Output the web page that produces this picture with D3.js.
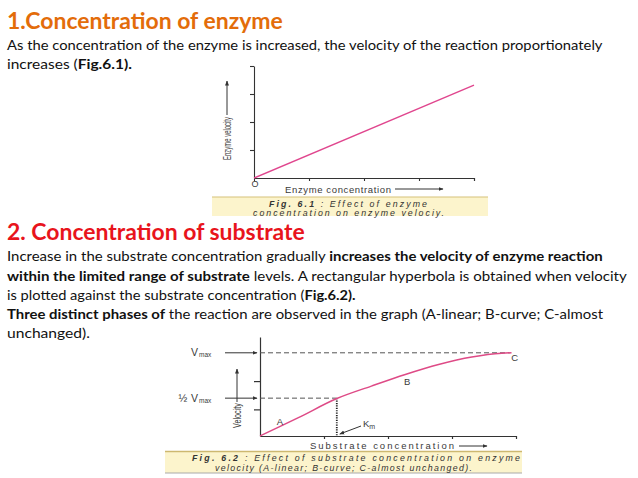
<!DOCTYPE html>
<html><head><meta charset="utf-8">
<script src="https://cdn.jsdelivr.net/npm/d3@7"></script>
<style>body{margin:0;background:#fff}svg{display:block}text{white-space:pre}</style>
</head><body>
<svg id="c" width="638" height="478"></svg>
<script>
// ---------- data ----------
const fig1Conc = [0, 4];
const fig1Vel = [0, 3.32];
const fig1XTicks = [1, 2, 3, 4];
const fig1YTicks = [1, 2, 3, 4];

const fig2Conc = [0, 0.60, 1.20, 1.74, 2.27, 2.79, 3.31, 3.78, 3.93];
const fig2Vel  = [0, 0.22, 0.45, 0.60, 0.74, 0.86, 0.95, 0.995, 1.0];
const fig2XTicks = [1, 2, 3, 4];
const fig2YTicks = [0.32, 0.66];
const vmaxValue = 1.0;
const halfVmaxValue = 0.455;
const kmValue = 1.20;
const phaseLabels = ["A", "B", "C"];

const heading1 = "1.Concentration of enzyme";
const heading2 = "2. Concentration of substrate";
const para1 = [
  [["As the concentration of the enzyme is increased, the velocity of the reaction proportionately", false]],
  [["increases (", false], ["Fig.6.1).", true]]
];
const para2 = [
  [["Increase in the substrate concentration gradually ", false], ["increases the velocity of enzyme reaction", true]],
  [["within the limited range of substrate", true], [" levels. A rectangular hyperbola is obtained when velocity", false]],
  [["is plotted against the substrate concentration (", false], ["Fig.6.2).", true]],
  [["Three distinct phases of", true], [" the reaction are observed in the graph (A-linear; B-curve; C-almost", false]],
  [["unchanged).", false]]
];
const cap1 = ["Fig. 6.1", " : Effect of enzyme", "concentration on enzyme velociy."];
const cap2 = ["Fig. 6.2", " : Effect of substrate concentration on enzyme", "velocity (A-linear; B-curve; C-almost unchanged)."];

// ---------- drawing ----------
const svg = d3.select("#c");
const BODY = "Lato, 'Open Sans', sans-serif";
const ARIAL = "'Liberation Sans', Arial, sans-serif";

const defs = svg.append("defs");
defs.append("marker").attr("id", "ah").attr("viewBox", "0 0 10 10")
  .attr("refX", 9).attr("refY", 5).attr("markerWidth", 5).attr("markerHeight", 5)
  .attr("orient", "auto").attr("markerUnits", "userSpaceOnUse")
  .append("path").attr("d", "M0,1L10,5L0,9Z").attr("fill", "#333");

function richLine(x, y, segs, size, color, target) {
  const t = svg.append("text").attr("font-family", BODY).attr("font-size", size).attr("fill", color);
  segs.forEach(([s, b]) => t.append("tspan").attr("font-weight", b ? 700 : 400).text(s));
  const w = t.node().getComputedTextLength();
  const k = target ? target / w : 1;
  t.attr("transform", `translate(${x},${y}) scale(${k},1)`);
  return t;
}

// headings & paragraphs
richLine(7, 29, [[heading1, true]], 23, "#e36c0a", 276);
richLine(7, 50, para1[0], 13.8, "#111", 596);
richLine(7, 69, para1[1], 13.8, "#111", 125);

richLine(7, 240, [[heading2, true]], 23, "#e8141c", 298);
const p2targets = [596, 620, 349, 596, 83];
const p2y = [261, 281, 300, 319, 338];
para2.forEach((segs, i) => richLine(7, p2y[i], segs, 13.8, "#111", p2targets[i]));

function label(x, y, txt, size, len, opts = {}) {
  const t = svg.append("text").attr("x", x).attr("y", y).attr("font-family", ARIAL)
    .attr("font-size", size).attr("fill", opts.fill || "#3a3a3a")
    .attr("text-anchor", opts.anchor || "start").text(txt);
  if (opts.italic) t.attr("font-style", "italic");
  if (opts.bold) t.attr("font-weight", 700);
  if (len) t.attr("textLength", len).attr("lengthAdjust", opts.adjust || "spacing");
  if (opts.rotate) t.attr("transform", `rotate(-90,${x},${y})`);
  return t;
}
function arrow(x1, y1, x2, y2) {
  svg.append("line").attr("x1", x1).attr("y1", y1).attr("x2", x2).attr("y2", y2)
    .attr("stroke", "#333").attr("stroke-width", 1).attr("marker-end", "url(#ah)");
}

// ===== Figure 6.1 =====
const x1 = d3.scaleLinear().domain([0, 4]).range([254, 474]);
const y1 = d3.scaleLinear().domain([0, 4]).range([178, 66]);
const f1 = svg.append("g");
f1.append("g").attr("transform", `translate(0,${y1(0)})`)
  .call(d3.axisBottom(x1).tickValues(fig1XTicks).tickSize(3).tickFormat(""))
  .call(g => g.selectAll("path,line").attr("stroke", "#333").attr("stroke-width", 1.1));
f1.append("g").attr("transform", `translate(${x1(0)},0)`)
  .call(d3.axisLeft(y1).tickValues(fig1YTicks).tickSize(4).tickSizeOuter(0).tickFormat(""))
  .call(g => g.selectAll("path,line").attr("stroke", "#333").attr("stroke-width", 1.1));
f1.append("path").datum(fig1Conc.map((c, i) => [c, fig1Vel[i]]))
  .attr("d", d3.line().x(d => x1(d[0])).y(d => y1(d[1])))
  .attr("fill", "none").attr("stroke", "#e0468e").attr("stroke-width", 1.4);
label(255, 187, "O", 9, null, { anchor: "middle" });
label(285, 192.5, "Enzyme concentration", 9.5, 106);
arrow(395, 189, 443, 189);
label(231, 160, "Enzyme velocity", 10.5, 43, { rotate: true, adjust: "spacingAndGlyphs" });
arrow(227, 115, 227, 81);

// caption 1
svg.append("rect").attr("x", 212).attr("y", 197).attr("width", 276).attr("height", 19).attr("fill", "#fcf4cc");
svg.append("line").attr("x1", 212).attr("x2", 488).attr("y1", 197).attr("y2", 197).attr("stroke", "#d6c27a").attr("stroke-width", 1.2);
{
  const t = svg.append("text").attr("x", 269).attr("y", 206.5).attr("font-family", ARIAL).attr("font-size", 8.8)
    .attr("font-style", "italic").attr("fill", "#333").attr("textLength", 158).attr("lengthAdjust", "spacing");
  t.append("tspan").attr("font-weight", 700).text(cap1[0]);
  t.append("tspan").text(cap1[1]);
  label(253, 215.5, cap1[2], 8.8, 191, { italic: true, fill: "#333" });
}

// ===== Figure 6.2 =====
const x2 = d3.scaleLinear().domain([0, 4]).range([260, 516]);
const y2 = d3.scaleLinear().domain([0, 1.19]).range([436, 337]);
const f2 = svg.append("g");
f2.append("g").attr("transform", `translate(0,${y2(0)})`)
  .call(d3.axisBottom(x2).tickValues(fig2XTicks).tickSize(3).tickSizeOuter(0).tickFormat(""))
  .call(g => g.selectAll("path,line").attr("stroke", "#333").attr("stroke-width", 1.2));
f2.append("g").attr("transform", `translate(${x2(0)},0)`)
  .call(d3.axisLeft(y2).tickValues(fig2YTicks).tickSize(6).tickSizeOuter(0).tickFormat(""))
  .call(g => g.selectAll("path,line").attr("stroke", "#333").attr("stroke-width", 1.2));
// dashed reference lines
f2.append("line").attr("x1", x2(0)).attr("x2", x2(3.9)).attr("y1", y2(vmaxValue)).attr("y2", y2(vmaxValue))
  .attr("stroke", "#555").attr("stroke-width", 1).attr("stroke-dasharray", "5,3");
f2.append("line").attr("x1", x2(0)).attr("x2", x2(kmValue)).attr("y1", y2(halfVmaxValue)).attr("y2", y2(halfVmaxValue))
  .attr("stroke", "#555").attr("stroke-width", 1).attr("stroke-dasharray", "5,3");
f2.append("line").attr("x1", x2(kmValue)).attr("x2", x2(kmValue)).attr("y1", y2(halfVmaxValue)).attr("y2", y2(0))
  .attr("stroke", "#222").attr("stroke-width", 1.8).attr("stroke-dasharray", "1.2,1.2");
// curve
f2.append("path").datum(fig2Conc.map((c, i) => [c, fig2Vel[i]]))
  .attr("d", d3.line().curve(d3.curveMonotoneX).x(d => x2(d[0])).y(d => y2(d[1])))
  .attr("fill", "none").attr("stroke", "#de4a86").attr("stroke-width", 1.5);
// phase labels
label(x2(0.31), y2(0.18) + 3.5, phaseLabels[0], 9.5, null, { anchor: "middle" });
label(x2(2.30), y2(0.66) + 3.5, phaseLabels[1], 9.5, null, { anchor: "middle" });
label(x2(3.98), y2(0.94) + 3.5, phaseLabels[2], 9.5, null, { anchor: "middle" });
// Km
{
  const t = svg.append("text").attr("x", 363).attr("y", 427).attr("font-family", ARIAL).attr("font-size", 9.5).attr("fill", "#3a3a3a");
  t.append("tspan").text("K");
  t.append("tspan").attr("font-size", 7).attr("dy", 1.5).text("m");
  arrow(361, 426, x2(kmValue) + 3, 434);
}
// Vmax labels
function vmaxLabel(x, y) {
  const t = svg.append("text").attr("x", x).attr("y", y).attr("font-family", ARIAL).attr("font-size", 10.5).attr("fill", "#3a3a3a");
  t.append("tspan").text("V");
  t.append("tspan").attr("font-size", 6.5).attr("dy", 1).attr("dx", 1).text("max");
}
vmaxLabel(191, y2(vmaxValue) + 3.5);
arrow(225, y2(vmaxValue), 257, y2(vmaxValue));
label(183, y2(halfVmaxValue) + 3.5, "½", 10.5, null, { anchor: "middle" });
vmaxLabel(191, y2(halfVmaxValue) + 3.5);
arrow(225, y2(halfVmaxValue), 257, y2(halfVmaxValue));
// velocity
label(241, 428, "Velocity", 10, 25, { rotate: true, adjust: "spacingAndGlyphs" });
arrow(237, 402, 237, 369);
// x label
label(310, 449, "Substrate concentration", 9.5, 144);
arrow(459, 446, 487, 446);

// caption 2
svg.append("rect").attr("x", 165).attr("y", 451).attr("width", 357).attr("height", 22).attr("fill", "#fcf4cc");
svg.append("line").attr("x1", 165).attr("x2", 522).attr("y1", 451.5).attr("y2", 451.5).attr("stroke", "#cdb870").attr("stroke-width", 1.3);
svg.append("line").attr("x1", 165).attr("x2", 522).attr("y1", 473).attr("y2", 473).attr("stroke", "#aaa").attr("stroke-width", 1);
{
  const t = svg.append("text").attr("x", 192).attr("y", 460.5).attr("font-family", ARIAL).attr("font-size", 8.8)
    .attr("font-style", "italic").attr("fill", "#333").attr("textLength", 328).attr("lengthAdjust", "spacing");
  t.append("tspan").attr("font-weight", 700).text(cap2[0]);
  t.append("tspan").text(cap2[1]);
  label(215, 470.5, cap2[2], 8.8, 257, { italic: true, fill: "#333" });
}
</script>
</body></html>
